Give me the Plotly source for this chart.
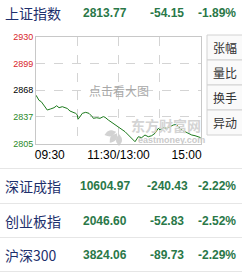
import plotly.graph_objects as go
import math

W, H = 242, 273

# ---- data ----
minutes = [0, 4.4, 7.7, 11.6, 16.4, 21.4, 26.2, 30.1, 33.5, 38.3, 43.2, 45.5, 49.5, 52.8,
           57.7, 60.1, 61.1, 64, 67.3, 72.3, 77.1, 81.9, 83.3, 88.3, 93.1, 97.9, 100.4,
           105.2, 110.1, 114.9, 119.7, 124.7, 129.5, 134.3, 139.2, 144, 148.8, 153.7,
           158.5, 163.3, 168.3, 173.1, 177.9, 180.4, 185.2, 190.1, 194.9, 199.7, 204.7,
           207, 211.9, 216.7, 221.5, 226.5, 231.3, 236.1, 239.3]
prices = [2862, 2856, 2854.4, 2850.6, 2844.7, 2846, 2847.4, 2849.7, 2847.4, 2848.6, 2847.4,
          2846.5, 2843.5, 2842.7, 2840.8, 2838.9, 2833.9, 2836.9, 2840.8, 2842, 2840.8,
          2836.9, 2835, 2835.7, 2835, 2837, 2836.2, 2833, 2830.3, 2827.2, 2825.2, 2821.4,
          2819.4, 2815.5, 2811.7, 2807.7, 2813.5, 2812.4, 2815.5, 2813.5, 2814.7, 2817.5,
          2823.3, 2821.4, 2824, 2823.3, 2825.2, 2827.2, 2828, 2825.2, 2821.4, 2819.4,
          2817.5, 2815.5, 2814.7, 2813.5, 2812.5]

y_ticks = [2805, 2837, 2868, 2899, 2930]
y_tick_colors = ["#2a8a2a", "#2a8a2a", "#000000", "#d8262b", "#d8262b"]
x_tick_pos = [20, 120, 219]
x_tick_labels = ["09:30", "11:30/13:00", "15:00"]

rows_name = ["上证指数", "深证成指", "创业板指", "沪深300"]
rows_price = ["2813.77", "10604.97", "2046.60", "3824.06"]
rows_chg = ["-54.15", "-240.43", "-52.83", "-89.73"]
rows_pct = ["-1.89%", "-2.22%", "-2.52%", "-2.29%"]
row_y = [13, 186, 221, 255]

buttons = ["张幅", "量比", "换手", "异动"]

# ---- helpers ----
def px(x):
    return x / W

def py(y):
    return 1 - y / H

fig = go.Figure()
fig.add_trace(go.Scatter(x=minutes, y=prices, mode="lines",
                         line=dict(color="#1c7a1c", width=1), hoverinfo="skip"))

ann = []
NAVY = "#1d2f6c"
GREEN = "#2a7848"

def label(x, y, text, family, size, color, xanchor="center"):
    ann.append(dict(x=px(x), y=py(y), xref="paper", yref="paper", text=text,
                    xanchor=xanchor, yanchor="middle", showarrow=False,
                    font=dict(family=family, size=size, color=color)))

for name, p, c, pc, yy in zip(rows_name, rows_price, rows_chg, rows_pct, row_y):
    label(3, yy, name, "Noto Sans CJK SC", 14, NAVY, xanchor="left")
    label(104.5, yy, "<b>" + p + "</b>", "Liberation Sans", 12, GREEN)
    label(167, yy, "<b>" + c + "</b>", "Liberation Sans", 12, GREEN)
    label(217, yy, "<b>" + pc + "</b>", "Liberation Sans", 12, GREEN)

# watermarks
label(118.5, 91, "点击看大图", "Noto Sans CJK SC", 12, "#a8a8a8")
label(166, 125, "<b>东方财富网</b>", "Noto Sans CJK SC", 14, "#d4d4d4")
label(171, 140, "<b>eastmoney.com</b>", "Liberation Sans", 9, "#cacaca")

shapes = []
# buttons
btn_top = [35, 60, 85, 110]
for t, b in zip(buttons, btn_top):
    shapes.append(dict(type="rect", xref="paper", yref="paper", x0=px(207), x1=px(243),
                       y0=py(b), y1=py(b + 25), line=dict(color="#d2d2d2", width=1),
                       fillcolor="#fafafa", layer="below"))
    label(224.5, b + 12.5, t, "Noto Sans CJK SC", 12, "#333333")

# separators
for yy in [168.5, 203.5, 237.5, 271.5]:
    shapes.append(dict(type="line", xref="paper", yref="paper", x0=0, x1=1,
                       y0=py(yy), y1=py(yy), line=dict(color="#e6e6e6", width=1)))

# fan logo watermark
cx, cy = 119, 131
for ang in [195, 232, 270]:
    a = math.radians(ang)
    pts = []
    for t in range(0, 11):
        f = t / 10
        r = 3 + 12 * f
        w = 3.0 * math.sin(math.pi * f)
        bx = cx + r * math.cos(a)
        by = cy - r * math.sin(a)
        pts.append((bx - w * math.sin(a), by - w * math.cos(a)))
    for t in range(10, -1, -1):
        f = t / 10
        r = 3 + 12 * f
        w = 3.0 * math.sin(math.pi * f)
        bx = cx + r * math.cos(a)
        by = cy - r * math.sin(a)
        pts.append((bx + w * math.sin(a), by + w * math.cos(a)))
    path = "M " + " L ".join(f"{px(x):.4f},{py(y):.4f}" for x, y in pts) + " Z"
    shapes.append(dict(type="path", xref="paper", yref="paper", path=path,
                       fillcolor="#d2d2d2", line=dict(width=0), layer="below"))

fig.update_layout(
    width=W, height=H, margin=dict(l=0, r=0, t=0, b=0),
    paper_bgcolor="white", plot_bgcolor="rgba(0,0,0,0)", showlegend=False,
    annotations=ann, shapes=shapes,
    xaxis=dict(domain=[px(36), px(201)], range=[0, 240], tickvals=x_tick_pos,
               ticktext=x_tick_labels, showgrid=False, zeroline=False,
               showline=True, linecolor="#c8c8c8", mirror=True, ticks="",
               tickfont=dict(family="Liberation Sans", size=12, color="#000"),
               minor=dict(tick0=0, dtick=60, showgrid=True, gridcolor="#d4d4d4",
                          griddash="dash", gridwidth=1, ticks=""),
               fixedrange=True, automargin=False),
    yaxis=dict(domain=[py(144), py(37)], range=[2805, 2930], tickvals=y_ticks,
               ticktext=[f'<span style="color:{c}">{v}</span>' for v, c in zip(y_ticks, y_tick_colors)],
               showgrid=True, gridcolor="#d4d4d4", griddash="dash", zeroline=False,
               showline=True, linecolor="#c8c8c8", mirror=True, ticks="",
               tickfont=dict(family="Liberation Sans", size=9, color="#000"),
               fixedrange=True, automargin=False),
)

fig.write_html("out.html", config={"displayModeBar": False})
